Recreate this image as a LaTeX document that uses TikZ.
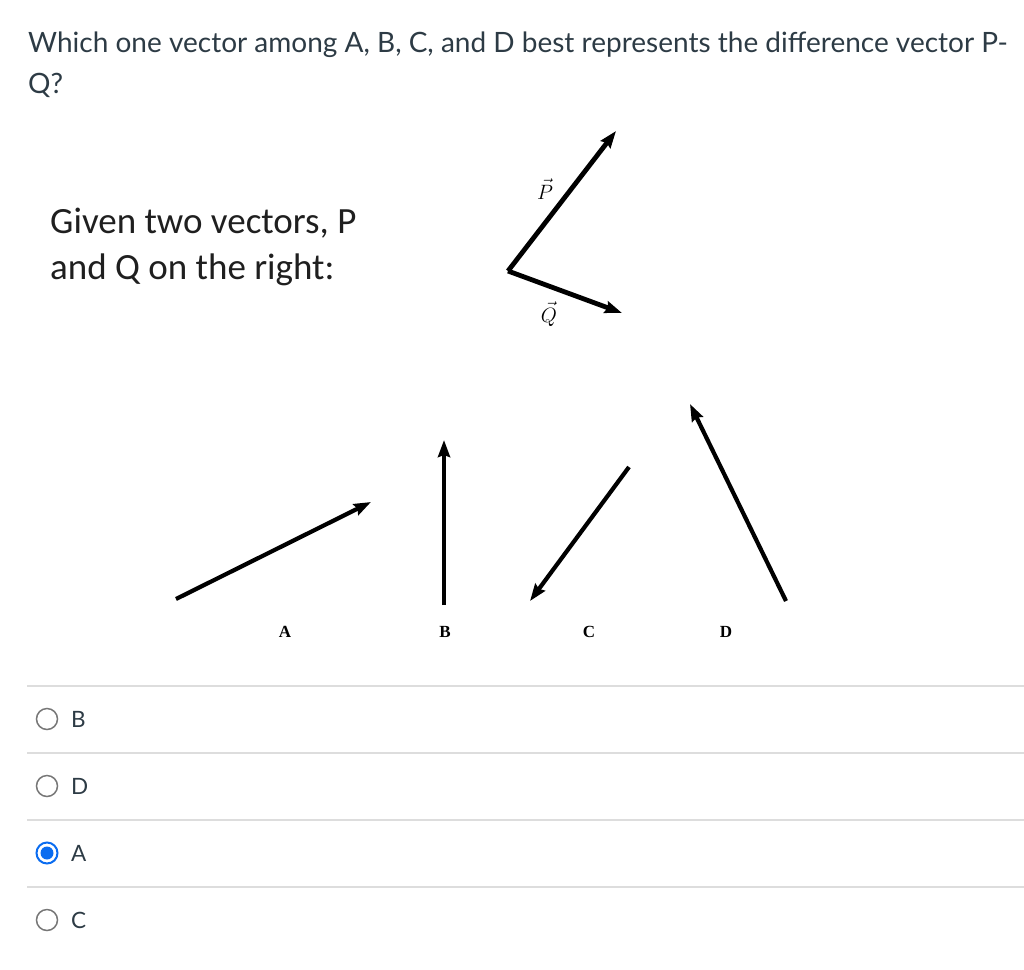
\documentclass[tikz,border=0pt]{standalone}
\usepackage{fontspec}
\setmainfont{Liberation Serif}
\newfontfamily\latofont{Lato}
\newfontfamily\givenfont{Carlito}
\usetikzlibrary{arrows.meta}
\definecolor{canvastext}{HTML}{2D3B45}
\definecolor{sepgray}{HTML}{DDDDDD}
\definecolor{radiogray}{HTML}{777777}
\definecolor{radioblue}{HTML}{0A6CF0}
\tikzset{
  vec/.style={line width=4.2pt, -{Stealth[length=17pt,width=12pt,inset=2pt]}},
  vlabel/.style={font=\fontsize{17}{17}\selectfont\bfseries, inner sep=0pt, anchor=base},
  title/.style={font=\latofont\fontsize{28}{41}\selectfont, text=canvastext, inner sep=0pt, anchor=base west},
  given/.style={font=\givenfont\fontsize{37}{46}\selectfont, text=black!88, inner sep=0pt, anchor=base west},
  opt/.style={font=\latofont\fontsize{22.5}{22}\selectfont, text=canvastext, inner sep=0pt, anchor=base west},
  sep/.style={draw=sepgray, line width=1.5pt},
  radio/.style={circle, draw=radiogray, line width=1.5pt, minimum size=21pt, inner sep=0pt},
  radiosel/.style={circle, draw=radioblue, line width=2pt, minimum size=21pt, inner sep=0pt},
  radiodot/.style={circle, fill=radioblue, minimum size=13pt, inner sep=0pt},
  veclab/.style={font=\fontsize{21}{21}\selectfont, inner sep=0pt}
}
\begin{document}
\begin{tikzpicture}[x=1pt,y=-1pt]
\useasboundingbox (0,0) rectangle (1024,969);
% title
\node[title] (t1) at (28,52) {Which one vector among A, B, C, and D best represents the difference vector P-};
\node[title] (t2) at (28,93) {Q?};
% given text
\node[given] (g1) at (50,233) {Given two vectors, P};
\node[given] (g2) at (50,279) {and Q on the right:};
% P and Q
\coordinate (o) at (508,271);
\coordinate (ptip) at (616,131);
\coordinate (qtip) at (622,313);
\draw[vec, line width=4.8pt] (o) -- (ptip);
\draw[vec, line width=4.8pt] (o) -- (qtip);
\node[veclab] (plab) at (545,189) {$\vec{P}$};
\node[veclab] (qlab) at (549,314) {$\vec{Q}$};
% candidate vectors
\coordinate (a0) at (176,599);
\coordinate (a1) at (371,502);
\draw[vec] (a0) -- (a1);
\coordinate (b0) at (444,605);
\coordinate (b1) at (444,440);
\draw[vec] (b0) -- (b1);
\coordinate (c0) at (629,467);
\coordinate (c1) at (530,601);
\draw[vec] (c0) -- (c1);
\coordinate (d0) at (786,601);
\coordinate (d1) at (690,404);
\draw[vec] (d0) -- (d1);
\node[vlabel] (la) at (285,637) {A};
\node[vlabel] (lb) at (445,637) {B};
\node[vlabel] (lc) at (589,637) {C};
\node[vlabel] (ld) at (726,637) {D};
% separators
\coordinate (s1a) at (27,686); \coordinate (s1b) at (1024,686);
\coordinate (s2a) at (27,753); \coordinate (s2b) at (1024,753);
\coordinate (s3a) at (27,820); \coordinate (s3b) at (1024,820);
\coordinate (s4a) at (27,887); \coordinate (s4b) at (1024,887);
\draw[sep] (s1a) -- (s1b);
\draw[sep] (s2a) -- (s2b);
\draw[sep] (s3a) -- (s3b);
\draw[sep] (s4a) -- (s4b);
% options
\node[radio] (r1) at (47,719) {};
\node[opt] (o1) at (71,727) {B};
\node[radio] (r2) at (47,786) {};
\node[opt] (o2) at (71,794) {D};
\node[radiosel] (r3) at (47,853) {};
\node[radiodot] (r3d) at (47,853) {};
\node[opt] (o3) at (71,861) {A};
\node[radio] (r4) at (47,920) {};
\node[opt] (o4) at (71,928) {C};
\end{tikzpicture}
\end{document}
